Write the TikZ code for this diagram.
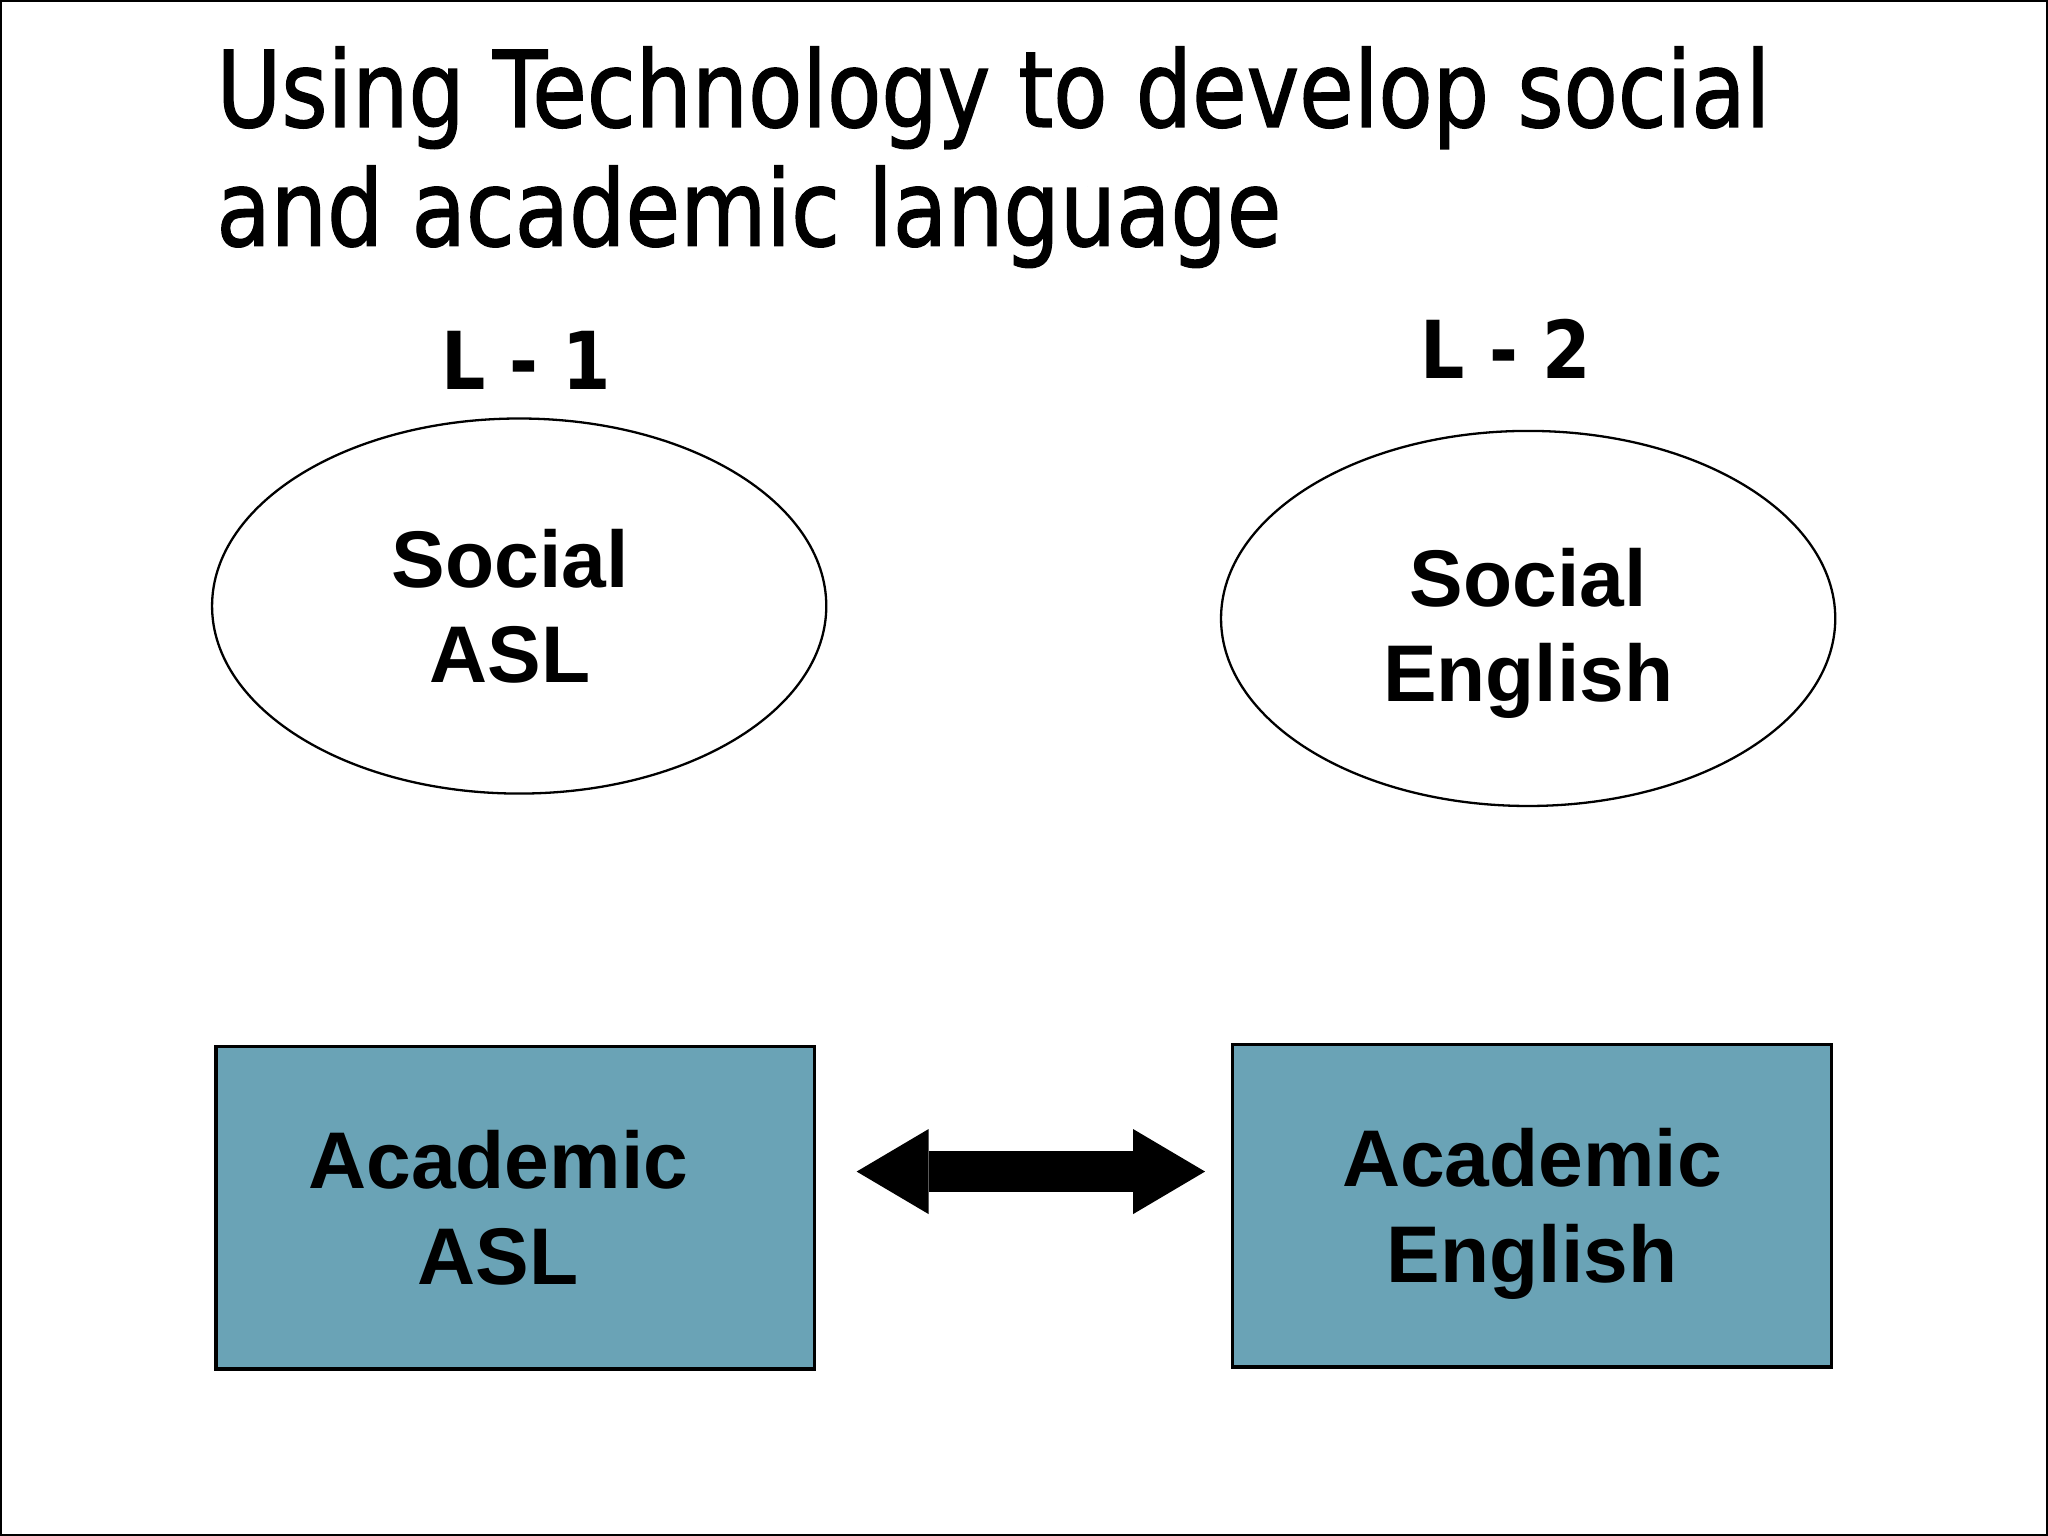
\documentclass[tikz,border=0pt]{standalone}
\usepackage{fontspec}
\usepackage{tikz}
\usetikzlibrary{shapes.geometric,arrows.meta}

\newfontfamily\titlefont[FakeStretch=0.84,FakeBold=1.2]{DejaVu Sans}
\newfontfamily\levelfont[FakeStretch=0.87]{DejaVu Sans}
\newfontfamily\labelfont{Liberation Sans}
\definecolor{boxblue}{HTML}{6AA3B6}

\begin{document}
\begin{tikzpicture}[x=0.01cm,y=-0.01cm,
    levellabel/.style={anchor=base,inner sep=0pt,font=\levelfont\bfseries\fontsize{17.4}{20}\selectfont},
    boxtext/.style={inner sep=0pt,align=center,text depth=0pt,
      font=\labelfont\bfseries\fontsize{17.5}{20.8}\selectfont},
    socialnode/.style={draw,line width=0.5pt,ellipse,inner sep=0pt,
      minimum width=4.7cm,minimum height=2.87cm},
    academicnode/.style={draw,line width=0.7pt,fill=boxblue,rectangle,inner sep=0pt,
      minimum width=4.58cm,minimum height=2.47cm},
    dblarrow/.style={line width=0.32cm,line cap=butt,
      {Triangle[length=0.55cm,width=0.65cm,line width=0pt]}-{Triangle[length=0.55cm,width=0.65cm,line width=0pt]}}]
  \useasboundingbox (0,0) rectangle (1568,1176);
  \draw[line width=1pt] (0,0) rectangle (1568,1176);

  \node (title) [anchor=north west,inner sep=0pt,align=left,
    font=\titlefont\fontsize{23}{25.9}\selectfont] at (165,35)
    {Using Technology to develop social\\and academic language};

  \node (lone) [levellabel] at (403,298) {L - 1};
  \node (ltwo) [levellabel] at (1153,290) {L - 2};

  % ellipses and boxes, text a little off centre as in the slide
  \node (socasl) [socialnode] at (397.5,464) {};
  \node (socasltext) [boxtext] at ([xshift=-0.07cm]socasl) {Social\\ASL};
  \node (soceng) [socialnode] at (1170,473.5) {};
  \node (socengtext) [boxtext] at ([yshift=-0.05cm]soceng) {Social\\English};

  \node (acasl) [academicnode] at (394.5,924.5) {};
  \node (acasltext) [boxtext] at ([xshift=-0.13cm]acasl) {Academic\\ASL};
  \node (aceng) [academicnode] at (1173,923) {};
  \node (acengtext) [boxtext] at (aceng) {Academic\\English};

  \draw[dblarrow,shorten <=0.31cm,shorten >=0.2cm]
    ([yshift=0.275cm]acasl.east) -- ([yshift=0.275cm]acasl.east -| aceng.west);
\end{tikzpicture}
\end{document}
